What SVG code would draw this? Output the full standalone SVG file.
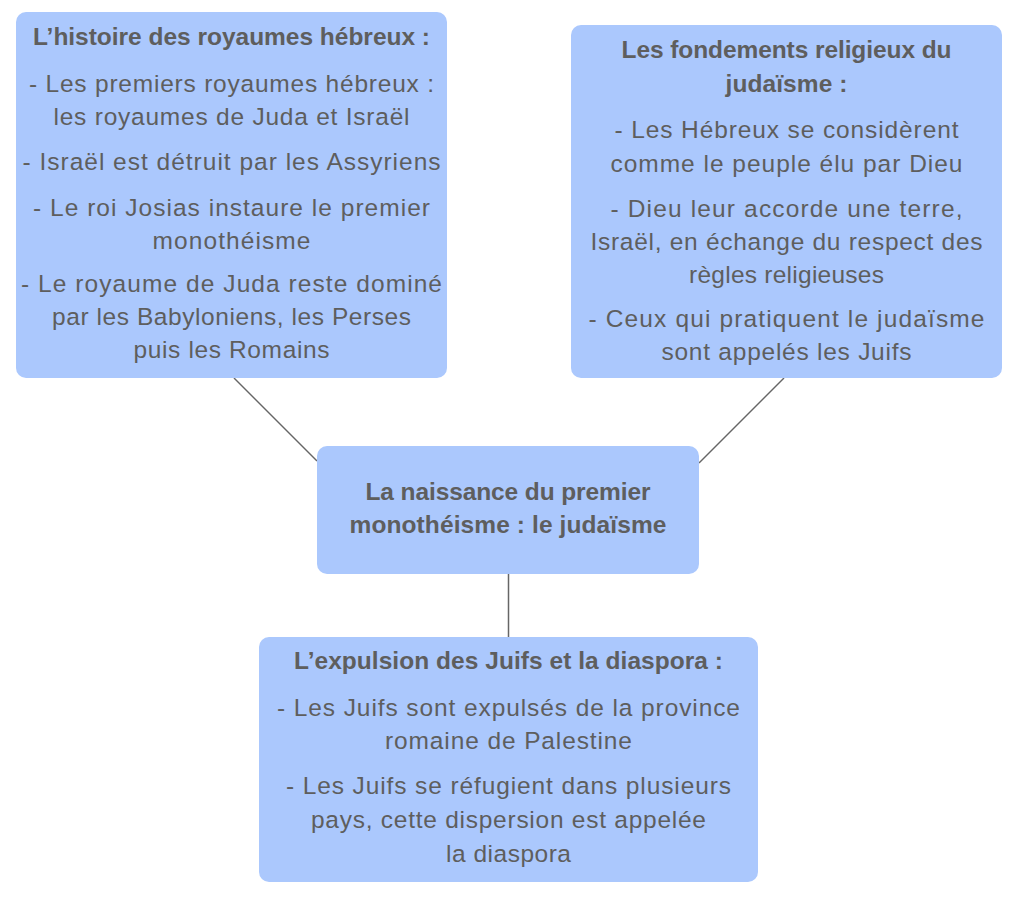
<svg xmlns="http://www.w3.org/2000/svg" width="1014" height="898" viewBox="0 0 1014 898">
<style>
.box{fill:#abc8fd;stroke:none}
.t{font-family:"Liberation Sans",Arial,sans-serif;font-size:24.5px;fill:#5e5e5e;text-anchor:middle}
.b{font-weight:bold}
.c{stroke:#666;stroke-width:1.5;fill:none}
</style>
<rect width="1014" height="898" fill="#fff"/>
<g id="connectors">
<line class="c" x1="234" y1="378" x2="317" y2="461"/>
<line class="c" x1="784" y1="378" x2="699" y2="463"/>
<line class="c" x1="508.5" y1="574" x2="508.5" y2="637"/>
</g>
<g id="histoire">
<rect class="box" x="16" y="12" width="431" height="366" rx="10"/>
<text class="t b" x="231.5" y="45" textLength="397">L’histoire des royaumes hébreux :</text>
<text class="t" x="231.5" y="92" textLength="405">- Les premiers royaumes hébreux :</text>
<text class="t" x="231.5" y="125" textLength="356">les royaumes de Juda et Israël</text>
<text class="t" x="231.5" y="170" textLength="418">- Israël est détruit par les Assyriens</text>
<text class="t" x="231.5" y="216" textLength="397">- Le roi Josias instaure le premier</text>
<text class="t" x="231.5" y="249" textLength="158">monothéisme</text>
<text class="t" x="231.5" y="292" textLength="421">- Le royaume de Juda reste dominé</text>
<text class="t" x="231.5" y="325" textLength="359">par les Babyloniens, les Perses</text>
<text class="t" x="231.5" y="358" textLength="196">puis les Romains</text>
</g>
<g id="fondements">
<rect class="box" x="571" y="25" width="431" height="353" rx="10"/>
<text class="t b" x="786.5" y="58" textLength="330">Les fondements religieux du</text>
<text class="t b" x="786.5" y="92" textLength="122">judaïsme :</text>
<text class="t" x="786.5" y="138" textLength="344">- Les Hébreux se considèrent</text>
<text class="t" x="786.5" y="172" textLength="352">comme le peuple élu par Dieu</text>
<text class="t" x="786.5" y="217" textLength="352">- Dieu leur accorde une terre,</text>
<text class="t" x="786.5" y="250" textLength="392">Israël, en échange du respect des</text>
<text class="t" x="786.5" y="283" textLength="195">règles religieuses</text>
<text class="t" x="786.5" y="327" textLength="396">- Ceux qui pratiquent le judaïsme</text>
<text class="t" x="786.5" y="360" textLength="250">sont appelés les Juifs</text>
</g>
<g id="naissance">
<rect class="box" x="317" y="446" width="382" height="128" rx="10"/>
<text class="t b" x="508" y="500" textLength="285">La naissance du premier</text>
<text class="t b" x="508" y="533" textLength="317">monothéisme : le judaïsme</text>
</g>
<g id="expulsion">
<rect class="box" x="259" y="637" width="499" height="245" rx="10"/>
<text class="t b" x="508.5" y="669" textLength="429">L’expulsion des Juifs et la diaspora :</text>
<text class="t" x="508.5" y="716" textLength="463">- Les Juifs sont expulsés de la province</text>
<text class="t" x="508.5" y="749" textLength="247">romaine de Palestine</text>
<text class="t" x="508.5" y="794" textLength="445">- Les Juifs se réfugient dans plusieurs</text>
<text class="t" x="508.5" y="828" textLength="395">pays, cette dispersion est appelée</text>
<text class="t" x="508.5" y="862" textLength="125">la diaspora</text>
</g>
</svg>
